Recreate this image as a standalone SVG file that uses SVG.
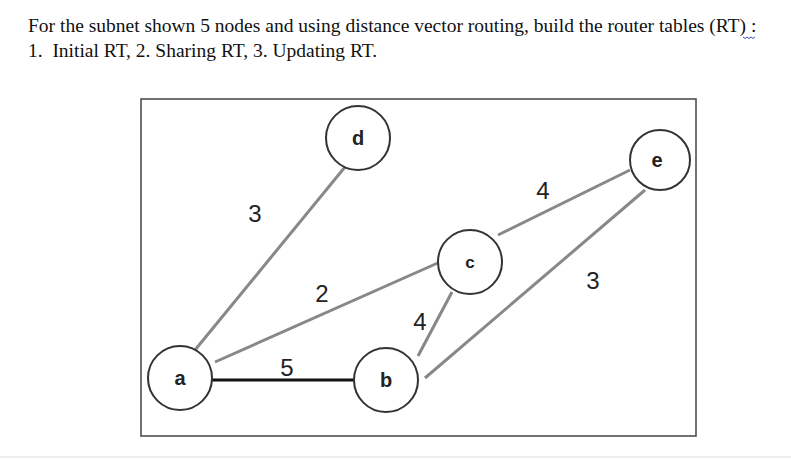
<svg xmlns="http://www.w3.org/2000/svg" width="791" height="459" viewBox="0 0 791 459">
<style>
.t{font-family:"Liberation Serif",serif;font-size:19.5px;fill:#111}
.n circle{fill:#fff;stroke:#333;stroke-width:2}
.n text{font-family:"Liberation Sans",sans-serif;font-size:20px;font-weight:bold;text-anchor:middle;fill:#222}
.e line{stroke:#888;stroke-width:3}
.l{font-family:"Liberation Sans",sans-serif;font-size:24px;text-anchor:middle;fill:#222}
</style>
<rect width="791" height="459" fill="#fff"/>
<text class="t" x="28" y="32">For the subnet shown 5 nodes and using distance vector routing, build the router tables (RT) :</text>
<path d="M743 37 q2 3 4 0 q2 3 4 0 q2 3 4 0" fill="none" stroke="#3355bb" stroke-width="1"/>
<text class="t" x="28" y="57" xml:space="preserve">1.  Initial RT, 2. Sharing RT, 3. Updating RT.</text>
<line x1="0" y1="457" x2="791" y2="457" stroke="#ddd"/>
<rect x="141" y="99" width="555" height="337" fill="none" stroke="#444" stroke-width="1.5"/>
<g id="edges" class="e">
<line x1="195" y1="350" x2="345" y2="167"/>
<line x1="215" y1="362" x2="440" y2="262"/>
<line x1="212" y1="380" x2="355" y2="380" style="stroke:#111"/>
<line x1="418" y1="356" x2="452" y2="292"/>
<line x1="498" y1="235" x2="630" y2="170"/>
<line x1="425" y1="378" x2="645" y2="190"/>
</g>
<g id="labels">
<text class="l" x="255" y="222">3</text>
<text class="l" x="322" y="302">2</text>
<text class="l" x="287" y="376">5</text>
<text class="l" x="420" y="330">4</text>
<text class="l" x="543" y="199">4</text>
<text class="l" x="593" y="289">3</text>
</g>
<g id="node-d" class="n"><circle cx="358" cy="138" r="32"/><text x="358" y="145">d</text></g>
<g id="node-e" class="n"><circle cx="660" cy="160" r="30"/><text x="657" y="167">e</text></g>
<g id="node-c" class="n"><circle cx="470" cy="262" r="32"/><text x="470" y="268" style="font-size:17px">c</text></g>
<g id="node-a" class="n"><circle cx="180" cy="378" r="32"/><text x="180" y="385">a</text></g>
<g id="node-b" class="n"><circle cx="386" cy="380" r="32"/><text x="386" y="387">b</text></g>
</svg>
